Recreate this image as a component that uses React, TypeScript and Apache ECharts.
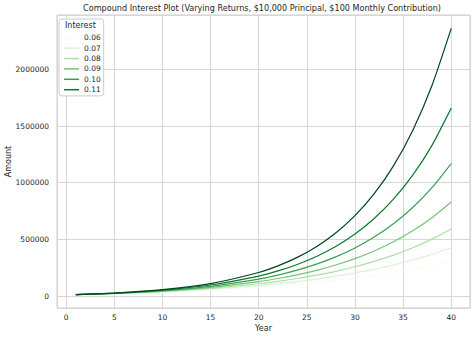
import React, { useEffect, useRef } from "react";
import * as echarts from "echarts";

const years = [1, 5, 10, 15, 20, 22, 24, 26, 28, 30, 32, 34, 36, 38, 40];
const rateNames = ["0.06", "0.07", "0.08", "0.09", "0.10", "0.11", "0.12"];
const legendNames = ["0.06", "0.07", "0.08", "0.09", "0.10", "0.11"];
const amount006 = [11850, 20466, 34582, 53623, 79306, 91934, 106167, 122211, 140294, 160677, 183652, 209549, 238738, 271639, 308724];
const amount007 = [11962, 21336, 37405, 60186, 92480, 108902, 127785, 149496, 174459, 203163, 236166, 274113, 317745, 367913, 425597];
const amount008 = [12075, 22246, 40491, 67673, 108170, 129465, 154442, 183736, 218096, 258395, 305662, 361100, 426124, 502389, 591839];
const amount009 = [12189, 23199, 43865, 76221, 126880, 154420, 187369, 226790, 273953, 330379, 397889, 478659, 575293, 690907, 829227];
const amount010 = [12304, 24197, 47555, 85985, 149216, 184746, 228107, 281025, 345605, 424415, 520598, 637978, 781228, 956048, 1169386];
const amount011 = [12420, 25241, 51591, 97149, 175914, 221653, 278591, 349469, 437700, 547532, 684256, 854452, 1066319, 1330055, 1658352];
const amount012 = [12537, 26334, 56008, 109916, 207851, 266613, 341225, 435963, 556255, 708993, 902932, 1149181, 1461853, 1858863, 2362955];
const seriesValues = [amount006, amount007, amount008, amount009, amount010, amount011, amount012];
const colors = ["#f7fcf5", "#dbf1d5", "#aedea7", "#74c476", "#37a055", "#0c7734", "#00441b"];

const FONT = "DejaVu Sans";

export default function App() {
  const ref = useRef<HTMLDivElement>(null);
  useEffect(() => {
    document.body.style.margin = "0";
    if (!ref.current) return;
    const chart = echarts.init(ref.current, undefined, { renderer: "svg" });
    chart.setOption({
      animation: false,
      backgroundColor: "#ffffff",
      textStyle: { fontFamily: FONT },
      title: {
        text: "Compound Interest Plot (Varying Returns, $10,000 Principal, $100 Monthly Contribution)",
        left: 262,
        textAlign: "center",
        top: 3.5,
        padding: 0,
        textStyle: { fontFamily: FONT, fontSize: 8.1, fontWeight: "normal", color: "#262626" },
      },
      grid: {
        left: 57,
        right: 4,
        top: 15,
        bottom: 29,
        outerBoundsMode: "none",
        containLabel: false,
        show: true,
        borderColor: "#cccccc",
        borderWidth: 1,
        backgroundColor: "transparent",
      },
      legend: {
        data: legendNames,
        orient: "vertical",
        left: 59,
        top: 19,
        icon: "rect",
        itemWidth: 15,
        itemHeight: 1.5,
        itemGap: 0,
        itemTextGap: 5,
        padding: [13.5, 3, 1, 5],
        backgroundColor: "#ffffff",
        borderColor: "#cccccc",
        borderWidth: 1,
        borderRadius: 3,
        textStyle: { fontFamily: FONT, fontSize: 7.5, color: "#262626", lineHeight: 10.4 },
      },
      graphic: [
        {
          type: "text",
          x: 65,
          y: 25.7,
          z: 100,
          style: {
            text: "Interest",
            fontFamily: FONT,
            fontSize: 8,
            fill: "#262626",
            verticalAlign: "middle",
          },
        },
      ],
      xAxis: {
        type: "value",
        min: -0.95,
        max: 41.95,
        splitNumber: 8,
        name: "Year",
        nameLocation: "middle",
        nameGap: 16,
        nameMoveOverlap: false,
        nameTextStyle: { fontFamily: FONT, fontSize: 8, color: "#262626" },
        axisLine: { show: false },
        axisTick: { show: false },
        axisLabel: {
          showMinLabel: false,
          showMaxLabel: false,
          margin: 5,
          fontFamily: FONT,
          fontSize: 7.5,
          color: "#262626",
          formatter: (v: number) => String(v),
        },
        splitLine: { show: true, lineStyle: { color: "#d6d6d6", width: 1 } },
      },
      yAxis: {
        type: "value",
        min: -105705,
        max: 2480510,
        splitNumber: 5,
        name: "Amount",
        nameLocation: "middle",
        nameGap: 45,
        nameMoveOverlap: false,
        nameTextStyle: { fontFamily: FONT, fontSize: 8, color: "#262626" },
        axisLine: { show: false },
        axisTick: { show: false },
        axisLabel: {
          showMinLabel: false,
          showMaxLabel: false,
          margin: 8,
          fontFamily: FONT,
          fontSize: 7.5,
          color: "#262626",
          formatter: (v: number) => String(v),
        },
        splitLine: { show: true, lineStyle: { color: "#d6d6d6", width: 1 } },
      },
      series: rateNames.map((name, i) => ({
        name,
        type: "line",
        data: years.map((y, j) => [y, seriesValues[i][j]]),
        smooth: 0.2,
        showSymbol: false,
        symbol: "none",
        color: colors[i],
        lineStyle: { color: colors[i], width: 1.2 },
        z: 2 + i,
      })),
    });
    return () => chart.dispose();
  }, []);
  return <div ref={ref} style={{ width: 474, height: 337 }} />;
}
